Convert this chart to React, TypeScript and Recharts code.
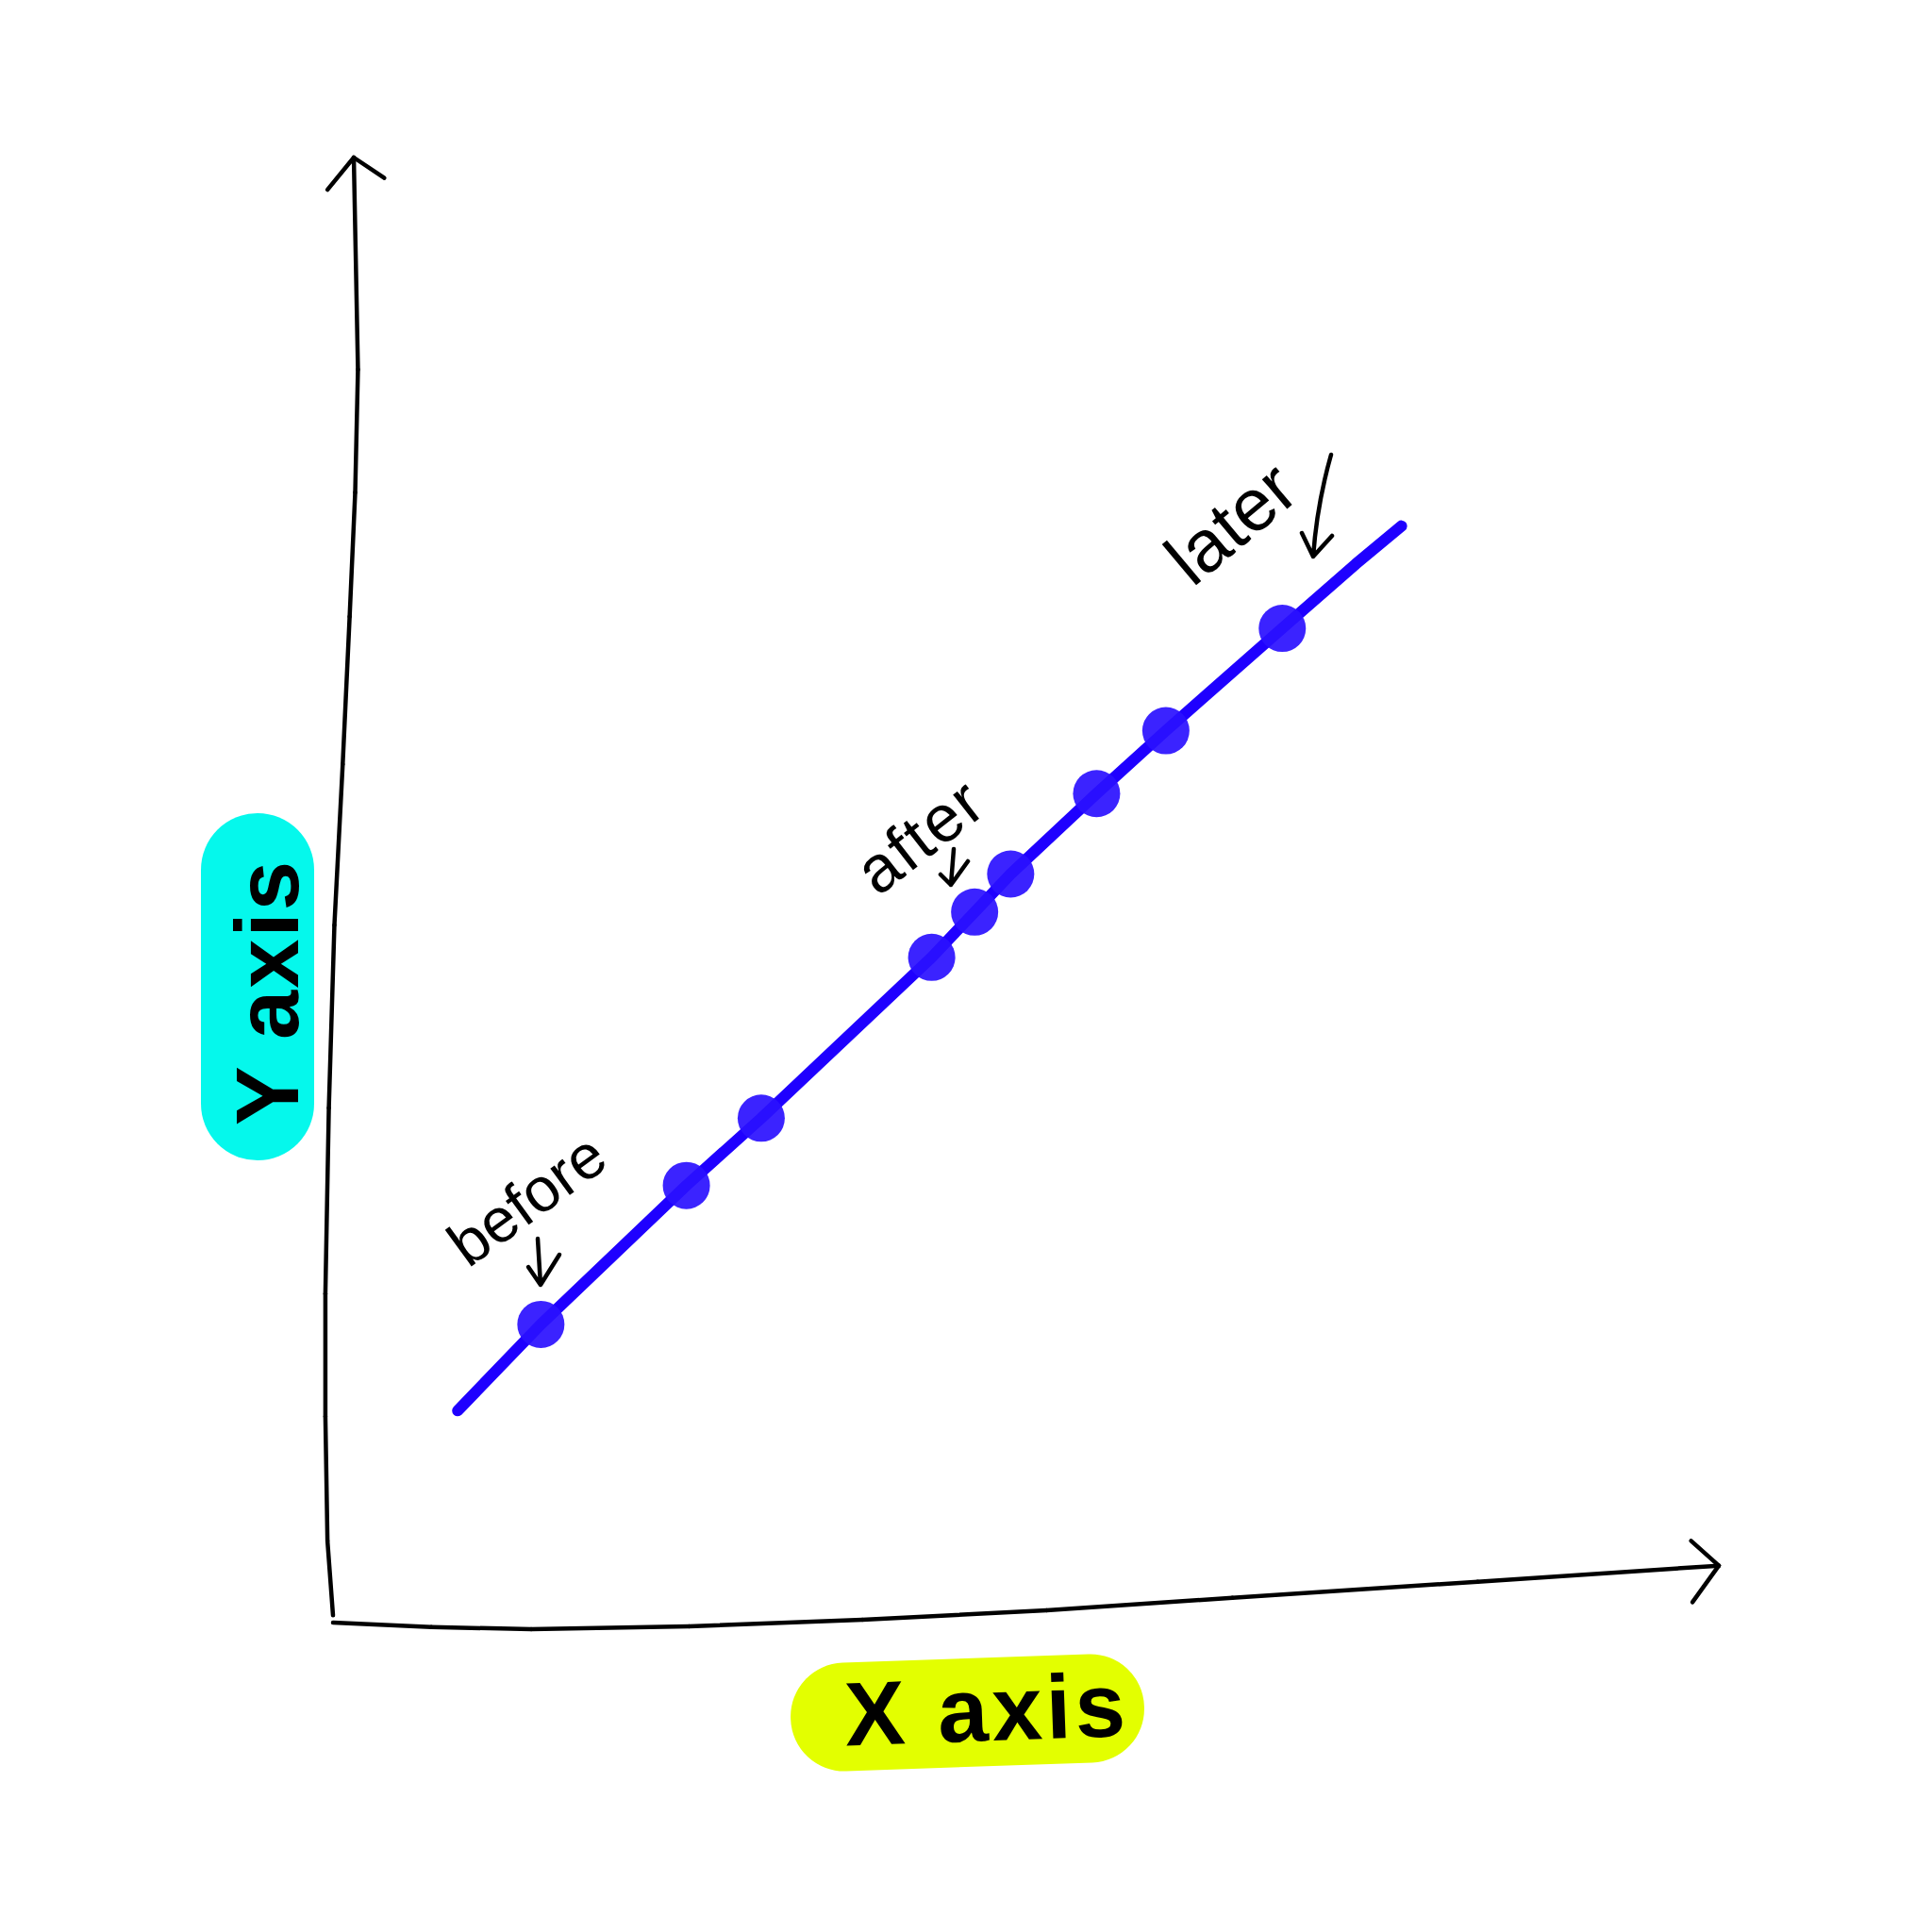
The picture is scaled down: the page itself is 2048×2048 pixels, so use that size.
import { ComposedChart, Line, Scatter, XAxis, YAxis, ReferenceLine } from "recharts"

// hand-drawn sketch: no ticks, values in arbitrary units (0-100 along each axis)
const dotX = [15.0, 25.5, 30.9, 43.2, 46.3, 48.9, 55.1, 60.1, 68.5]
const dotY = [20.2, 29.7, 34.3, 45.3, 48.4, 51.0, 56.5, 60.8, 67.8]

// the line runs a bit past the first and last dots
const headX = [9.0]
const headY = [14.3]
const tailX = [73.8, 77.1]
const tailY = [72.2, 74.8]

// wobbly hand-drawn axes, in the same units
const yAxisX = [1.5, 1.8, 1.6, 1.2, 0.7, 0.1, -0.3, -0.55, -0.55, -0.4, 0]
const yAxisY = [100, 85.5, 77.1, 68.6, 58.5, 47.5, 35.0, 22.3, 13.9, 5.4, 0.3]
const xAxisX = [0, 7.1, 14.3, 25.7, 38.2, 51.5, 64.9, 82.6, 100]
const xAxisY = [-0.2, -0.5, -0.65, -0.45, 0, 0.65, 1.5, 2.6, 3.7]

const dots = dotX.map((x, i) => ({ x, y: dotY[i] }))
const linePts = [
  ...headX.map((x, i) => ({ x, y: headY[i] })),
  ...dots,
  ...tailX.map((x, i) => ({ x, y: tailY[i] })),
]

const toPts = (xs: number[], ys: number[]) => xs.map((x, i) => ({ x, y: ys[i] }))
const yAxisPts = toPts(yAxisX, yAxisY)
const xAxisPts = toPts(xAxisX, xAxisY)

const segments = (pts: { x: number; y: number }[]) =>
  pts.slice(1).map((p, i) => [pts[i], p] as [{ x: number; y: number }, { x: number; y: number }])

// arrowheads at axis ends
const yArrow = [
  [{ x: -0.4, y: 97.8 }, yAxisPts[0]],
  [{ x: 3.7, y: 98.6 }, yAxisPts[0]],
]
const xArrow = [
  [{ x: 98.0, y: 5.4 }, xAxisPts[xAxisPts.length - 1]],
  [{ x: 98.1, y: 1.2 }, xAxisPts[xAxisPts.length - 1]],
]

const BLUE = "#1f00ff"
const hand = "'Liberation Sans Narrow', 'Liberation Sans', sans-serif"

const Dot = (props: any) => {
  const { cx, cy } = props
  return <circle cx={cx} cy={cy} r={25} fill="#2a10ff" fillOpacity={0.92} />
}

function Notes() {
  const ink = { stroke: "#000", strokeWidth: 4.5, fill: "none", strokeLinecap: "round" as const, strokeLinejoin: "round" as const }
  return (
    <svg width={2048} height={2048} style={{ position: "absolute", left: 0, top: 0, pointerEvents: "none" }}>
      {/* axis name pills */}
      <rect x={213} y={862} width={120} height={368} rx={60} fill="#05f8ec" />
      <text
        x={316}
        y={1052}
        transform="rotate(-90 316 1052)"
        textAnchor="middle"
        fontFamily={hand}
        fontWeight="bold"
        fontSize={94}
        letterSpacing={2}
        fill="#000"
      >
        Y axis
      </text>
      <g transform="rotate(-2 1025 1815)">
        <rect x={838} y={1758} width={375} height={115} rx={57} fill="#e3ff00" />
        <text x={1046} y={1846} textAnchor="middle" fontFamily={hand} fontWeight="bold" fontSize={96} letterSpacing={4} fill="#000">
          X axis
        </text>
      </g>

      {/* annotations */}
      <text x={572} y={1290} transform="rotate(-36 572 1290)" textAnchor="middle" fontFamily={hand} fontSize={66} fill="#000">
        before
      </text>
      <path d="M570 1313 L573 1362 M560 1343 L573 1362 L593 1330" {...ink} />

      <text x={990} y={905} transform="rotate(-38 990 905)" textAnchor="middle" fontFamily={hand} fontSize={70} letterSpacing={2} fill="#000">
        after
      </text>
      <path d="M1011 900 L1008 938 M997 927 L1008 938 L1026 913" {...ink} />

      <text x={1322} y={575} transform="rotate(-40 1322 575)" textAnchor="middle" fontFamily={hand} fontSize={78} fill="#000">
        later
      </text>
      <path d="M1411 482 Q1396 535 1392 590 M1380 565 L1392 590 L1412 568" {...ink} />
    </svg>
  )
}

export default function App() {
  return (
    <div style={{ position: "absolute", left: 0, top: 0, width: 2048, height: 2048, background: "#fff" }}>
      <ComposedChart width={2048} height={2048} margin={{ top: 167, right: 226, bottom: 331, left: 353 }}>
        <XAxis type="number" dataKey="x" domain={[0, 100]} hide />
        <YAxis type="number" dataKey="y" domain={[0, 100]} hide />
        {[...segments(yAxisPts), ...segments(xAxisPts), ...yArrow, ...xArrow].map((seg, i) => (
          <ReferenceLine
            key={i}
            segment={seg}
            ifOverflow="visible"
            stroke="#000"
            strokeWidth={4.5}
            strokeLinecap="round"
          />
        ))}
        <Line
          data={linePts}
          dataKey="y"
          type="linear"
          stroke={BLUE}
          strokeWidth={12}
          strokeLinecap="round"
          strokeLinejoin="round"
          dot={false}
          activeDot={false}
          isAnimationActive={false}
        />
        <Scatter data={dots} dataKey="y" shape={<Dot />} isAnimationActive={false} />
      </ComposedChart>
      <Notes />
    </div>
  )
}
